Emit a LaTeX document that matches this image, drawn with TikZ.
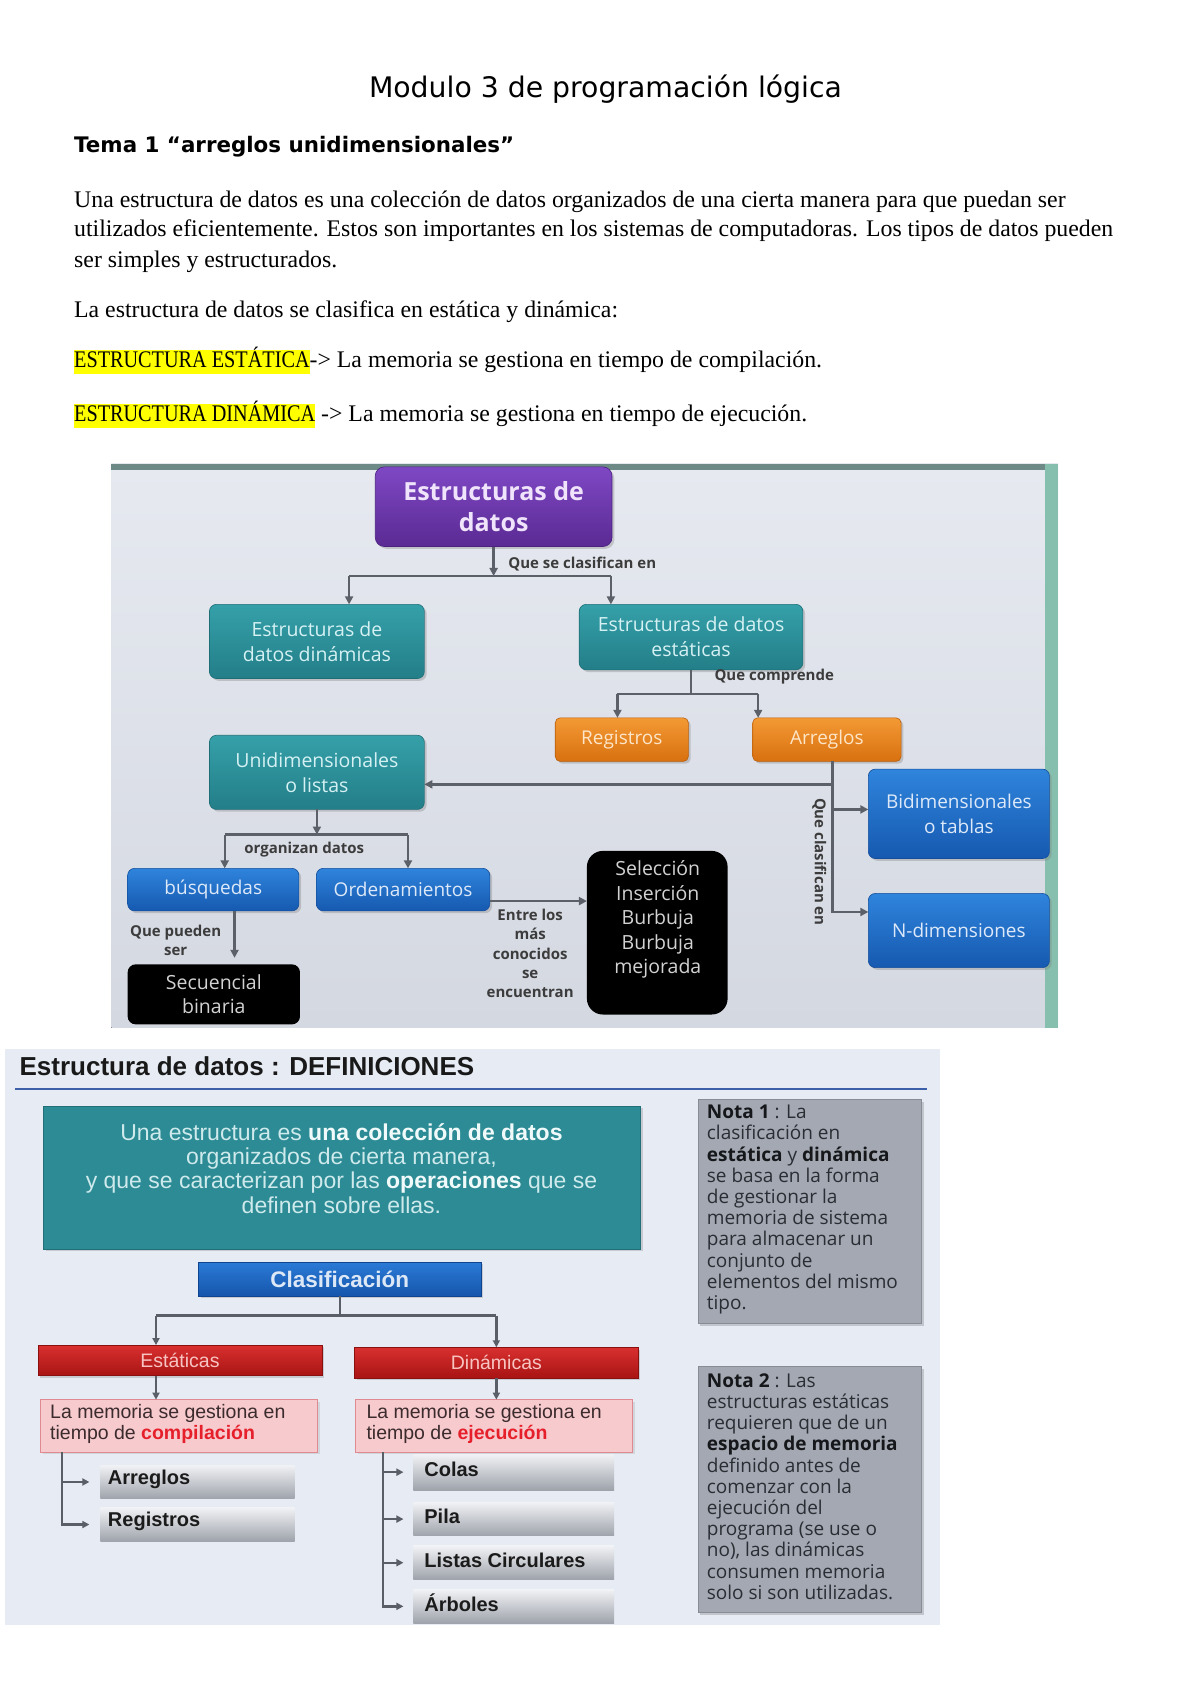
\documentclass[tikz,border=0pt]{standalone}
\usepackage{fontspec}
\setmainfont{Liberation Serif}
\newfontfamily\dvs{DejaVu Sans}
\newfontfamily\osf{Open Sans}
\newfontfamily\arl{Liberation Sans}
\usetikzlibrary{arrows.meta,shadows}
\definecolor{hlY}{HTML}{FFFF00}
\definecolor{purpT}{HTML}{7E48C4}\definecolor{purpB}{HTML}{5B2A93}\definecolor{purpD}{HTML}{4A2080}\definecolor{purpX}{HTML}{EFE4FB}
\definecolor{tealT}{HTML}{35A0A9}\definecolor{tealB}{HTML}{237E88}\definecolor{tealD}{HTML}{1D6E77}\definecolor{tealX}{HTML}{D5F1F3}
\definecolor{orT}{HTML}{F39A35}\definecolor{orB}{HTML}{D8700F}\definecolor{orD}{HTML}{B85E0C}\definecolor{orX}{HTML}{FDE5C8}
\definecolor{bluT}{HTML}{2F84DC}\definecolor{bluB}{HTML}{1659B0}\definecolor{bluD}{HTML}{134E9C}\definecolor{bluX}{HTML}{DDE9F8}
\definecolor{blkX}{HTML}{D2D2D2}
\definecolor{lineC}{HTML}{5C6068}\definecolor{lblC}{HTML}{3C3C3C}
\definecolor{cmT}{HTML}{E6E9F0}\definecolor{cmB}{HTML}{D4D8E1}
\definecolor{stripC}{HTML}{6D8A86}\definecolor{rstrip}{HTML}{86BFAE}
\definecolor{dbg}{HTML}{E6EBF4}\definecolor{dline}{HTML}{3D5EA8}
\definecolor{dtealC}{HTML}{2C8B94}\definecolor{dtealD}{HTML}{236F77}\definecolor{dtealX}{HTML}{CFEAEC}\definecolor{dtealB}{HTML}{F0FAFA}
\definecolor{clT}{HTML}{2A7AD6}\definecolor{clB}{HTML}{1656AC}\definecolor{clD}{HTML}{0F4590}\definecolor{clX}{HTML}{DDE8F7}
\definecolor{rdT}{HTML}{D8302F}\definecolor{rdB}{HTML}{A91414}\definecolor{rdD}{HTML}{8A0F0F}\definecolor{rdX}{HTML}{F7C4C2}
\definecolor{pkC}{HTML}{F7CACE}\definecolor{pkD}{HTML}{DF8A90}\definecolor{pkX}{HTML}{3B2B2D}\definecolor{pkR}{HTML}{E5202B}
\definecolor{itT}{HTML}{F1F2F5}\definecolor{itM}{HTML}{D6D9DE}\definecolor{itB}{HTML}{9EA3AB}\definecolor{itX}{HTML}{1B1B1B}
\definecolor{ntC}{HTML}{A3A8B2}\definecolor{ntD}{HTML}{878C95}\definecolor{ntX}{HTML}{2A2D33}\definecolor{ntB}{HTML}{15171A}
\definecolor{dlineC}{HTML}{5A5E66}
\newcommand\placebox[7]{\node[#1,minimum width={(#5-#3)*1.0909pt},minimum height={(#6-#4)*1.0909pt}] (#2) at ({(#3+#5)/2},{(#4+#6)/2}) {#7};}
\newcommand\notab[1]{\textcolor{ntB}{\bfseries #1}}
\begin{document}
\begin{tikzpicture}[x=1.0909pt,y=-1.0909pt,
  every node/.style={inner sep=0pt,outer sep=0pt},
  box/.style={align=center, rounded corners=5pt},
  purp/.style={box, top color=purpT, bottom color=purpB, draw=purpD, line width=0.6pt, text=purpX, font=\osf\bfseries\fontsize{25}{31.6}\selectfont, drop shadow={opacity=0.35}, rounded corners=9pt},
  teal/.style={box, top color=tealT, bottom color=tealB, draw=tealD, line width=0.6pt, text=tealX, font=\osf\fontsize{19.5}{25}\selectfont, drop shadow={opacity=0.35}, rounded corners=7pt},
  orng/.style={box, top color=orT, bottom color=orB, draw=orD, line width=0.6pt, text=orX, font=\osf\fontsize{19}{23}\selectfont, drop shadow={opacity=0.35}},
  blu/.style={box, top color=bluT, bottom color=bluB, draw=bluD, line width=0.6pt, text=bluX, font=\osf\fontsize{19}{25}\selectfont, drop shadow={opacity=0.35}, rounded corners=7pt},
  blk/.style={box, fill=black, text=blkX, font=\osf\fontsize{19.5}{24.5}\selectfont, rounded corners=8pt},
  blkr/.style={box, fill=black, rounded corners=16pt},
  blktxt/.style={align=center, text=blkX, font=\osf\fontsize{19.5}{24.5}\selectfont},
  conn/.style={draw=lineC, line width=2.4pt},
  arw/.style={conn, -{Triangle[length=8pt,width=8pt]}},
  lbl/.style={font=\osf\bfseries\fontsize{15}{19.3}\selectfont, text=lblC, align=center},
  bodyt/.style={font=\fontsize{23.8}{30}\selectfont, anchor=base west},
  hl/.style={bodyt, fill=hlY, text height=17.5pt, text depth=6.5pt},
  dteal/.style={fill=dtealC, draw=dtealD, line width=0.6pt, drop shadow={opacity=0.3}},
  dtxt/.style={font=\arl\fontsize{23}{24.4}\selectfont, text=dtealX, align=center},
  clas/.style={top color=clT, bottom color=clB, draw=clD, line width=0.6pt, text=clX, font=\arl\bfseries\fontsize{22.5}{26}\selectfont, drop shadow={opacity=0.3}},
  red/.style={top color=rdT, bottom color=rdB, draw=rdD, line width=0.6pt, text=rdX, font=\arl\fontsize{19.5}{22}\selectfont, drop shadow={opacity=0.3}},
  pink/.style={fill=pkC, draw=pkD, line width=0.8pt, drop shadow={opacity=0.2}},
  ptxt/.style={font=\arl\fontsize{19.5}{21.8}\selectfont, text=pkX, align=left, anchor=north west},
  item/.style={top color=itT, middle color=itM, bottom color=itB},
  itxt/.style={font=\arl\bfseries\fontsize{20}{22}\selectfont, text=itX, anchor=west},
  nota/.style={fill=ntC, draw=ntD, line width=0.8pt, drop shadow={opacity=0.35}},
  ntxt/.style={font=\osf\fontsize{19}{21.2}\selectfont, text=ntX, align=left, anchor=north west},
  dconn/.style={draw=dlineC, line width=2.4pt},
  darw/.style={dconn, -{Triangle[length=7pt,width=7pt]}}
]
\useasboundingbox (0,0) rectangle (1100,1554.7);
\fill[white] (0,0) rectangle (1100,1554.7);

% ---------- page text ----------
\node[font=\dvs\fontsize{28.3}{34}\selectfont, anchor=base] (title) at (555,89) {Modulo 3 de programación lógica};
\node[font=\dvs\bfseries\fontsize{21.4}{25}\selectfont, anchor=base west] (tema) at (68,140) {Tema 1 “arreglos unidimensionales”};
\node[bodyt] (l1) at (68,190) {Una estructura de datos es una colección de datos organizados de una cierta manera para que puedan ser};
\node[bodyt] (l2) at (68,217) {utilizados eficientemente. Estos son importantes en los sistemas de computadoras. Los tipos de datos pueden};
\node[bodyt] (l3) at (68,245) {ser simples y estructurados.};
\node[bodyt] (l4) at (68,291) {La estructura de datos se clasifica en estática y dinámica:};
\node[hl] (h1) at (68,337) {\scalebox{0.85}[1]{ESTRUCTURA ESTÁTICA}};
\node[bodyt] (l5) at (h1.base east) {-> La memoria se gestiona en tiempo de compilación.};
\node[hl] (h2) at (68,386) {\scalebox{0.85}[1]{ESTRUCTURA DINÁMICA}};
\node[bodyt] (l6) at (h2.base east) {\ -> La memoria se gestiona en tiempo de ejecución.};

% ---------- concept map ----------
\fill[top color=cmT, bottom color=cmB] (102,425) rectangle (970,942);
\fill[stripC] (102,425) rectangle (970,431);
\fill[rstrip] (958,425) rectangle (970,942);

\placebox{purp}{p}{344}{428}{561}{501}{Estructuras de\\datos}
\placebox{teal}{dd}{192}{554}{389}{622}{Estructuras de\\datos dinámicas}
\placebox{teal}{de}{531}{554}{736}{614}{Estructuras de datos\\estáticas}
\placebox{orng}{reg}{509}{658}{631}{698}{Registros}
\placebox{orng}{arrg}{690}{658}{826}{698}{Arreglos}
\placebox{blu}{bid}{796}{705}{962}{787}{Bidimensionales\\o tablas}
\placebox{blu}{ndim}{796}{819}{962}{887}{N-dimensiones}
\placebox{teal}{uni}{192}{674}{389}{742}{Unidimensionales\\o listas}
\placebox{blu}{bus}{117}{796}{274}{835}{búsquedas}
\placebox{blu}{ord}{290}{796}{449}{835}{Ordenamientos}
\placebox{blk}{sec}{117}{884}{275}{939}{Secuencial\\binaria}
\placebox{blkr}{sel}{538}{780}{667}{930}{}
\node[blktxt] (selt) at (603,843) {Selección\\Inserción\\Burbuja\\Burbuja\\mejorada};

\coordinate (jL) at (320,528); \coordinate (jR) at (560,528);
\draw[arw] (p.south) -- (p.south |- jL);
\draw[conn] (jL) -- (jR);
\draw[arw] (jL) -- (jL |- dd.north);
\draw[arw] (jR) -- (jR |- de.north);
\node[lbl, anchor=west] (q1) at (466,517) {Que se clasifican en};

\coordinate (kL) at (566,636); \coordinate (kR) at (695,636);
\draw[conn] (de.south) -- (de.south |- kL);
\draw[conn] (kL) -- (kR);
\draw[arw] (kL) -- (kL |- reg.north);
\draw[arw] (kR) -- (kR |- arrg.north);
\node[lbl, anchor=west] (q2) at (655,620) {Que comprende};

\coordinate (aU) at (763,719); \coordinate (aB) at (763,742); \coordinate (aN) at (763,836);
\draw[arw] (aU |- arrg.south) -- (aN) -- (aN -| ndim.west);
\draw[arw] (aB) -- (aB -| bid.west);
\draw[arw] (aU) -- (aU -| uni.east);
\node[lbl, rotate=-90] (q3) at (751,790) {Que clasifican en};

\coordinate (mL) at (206,765); \coordinate (mR) at (374,765);
\draw[arw] (uni.south) -- (uni.south |- mL);
\draw[conn] (mL) -- (mR);
\draw[arw] (mL) -- (mL |- bus.north);
\draw[arw] (mR) -- (mR |- ord.north);
\node[lbl, anchor=west] (q4) at (224,779) {organizan datos};

\coordinate (bS) at (215,835);
\draw[arw] (bS) -- (215,878);
\node[lbl] (q5) at (161,862) {Que pueden\\ser};

\coordinate (oS) at (449,826);
\draw[arw] (oS) -- (oS -| sel.west);
\node[lbl] (q6) at (486,874) {Entre los\\más\\conocidos\\se\\encuentran};

% ---------- definitions ----------
\fill[dbg] (5,962) rectangle (862,1490);
\node[font=\arl\bfseries\fontsize{26}{30}\selectfont, anchor=west, text=black!90] (dt) at (18,977) {Estructura de datos : DEFINICIONES};
\draw[dline, line width=1.6pt] (14,998) -- (850,998);

\placebox{dteal}{dbox}{40}{1014}{587}{1145}{}
\node[dtxt] (dtx) at (313,1071) {Una estructura es \textcolor{dtealB}{\bfseries una colección de datos}\\organizados de cierta manera,\\y que se caracterizan por las \textcolor{dtealB}{\bfseries operaciones} que se\\definen sobre ellas.};

\placebox{clas}{cl}{182}{1157}{441}{1188}{Clasificación}
\placebox{red}{est}{35}{1233}{295}{1261}{Estáticas}
\placebox{red}{din}{325}{1235}{585}{1263}{Dinámicas}
\placebox{pink}{pl}{37}{1283}{291}{1331}{}
\placebox{pink}{pr}{326}{1283}{580}{1331}{}
\node[ptxt] (plt) at (46,1287) {La memoria se gestiona en\\tiempo de \textcolor{pkR}{\bfseries compilación}};
\node[ptxt] (prt) at (336,1287) {La memoria se gestiona en\\tiempo de \textcolor{pkR}{\bfseries ejecución}};

\coordinate (cL) at (143,1206); \coordinate (cR) at (455,1206);
\draw[dconn] (cl.south) -- (cl.south |- cL);
\draw[dconn] (cL) -- (cR);
\draw[darw] (cL) -- (cL |- est.north);
\draw[darw] (cR) -- (cR |- din.north);
\draw[darw] (est.south -| cL) -- (cL |- pl.north);
\draw[darw] (din.south -| cR) -- (cR |- pr.north);

\placebox{item}{iarr}{92}{1343}{270}{1374}{}
\placebox{item}{ireg}{92}{1382}{270}{1413}{}
\placebox{item}{icol}{379}{1333}{563}{1366}{}
\placebox{item}{ipil}{379}{1377}{563}{1408}{}
\placebox{item}{ilis}{379}{1417}{563}{1448}{}
\placebox{item}{iarb}{379}{1457}{563}{1488}{}
\node[itxt] (tarr) at (99,1356) {Arreglos};
\node[itxt] (treg) at (99,1395) {Registros};
\node[itxt] (tcol) at (389,1347) {Colas};
\node[itxt] (tpil) at (389,1390) {Pila};
\node[itxt] (tlis) at (389,1430) {Listas Circulares};
\node[itxt] (tarb) at (389,1469) {Árboles};

\coordinate (bL) at (57,1358); \coordinate (bR) at (351,1350);
\draw[darw, shorten >=11pt] (bL |- pl.south) -- (bL |- ireg) -- (ireg.west);
\draw[darw, shorten >=11pt] (bL |- iarr) -- (iarr.west);
\draw[darw, shorten >=10pt] (bR |- pr.south) -- (bR |- iarb) -- (iarb.west);
\draw[darw, shorten >=10pt] (bR |- icol) -- (icol.west);
\draw[darw, shorten >=10pt] (bR |- ipil) -- (ipil.west);
\draw[darw, shorten >=10pt] (bR |- ilis) -- (ilis.west);

\placebox{nota}{n1}{640}{1008}{845}{1213}{}
\node[ntxt] (n1t) at (648,1013) {\notab{Nota 1} : La\\clasificación en\\\notab{estática} y \notab{dinámica}\\se basa en la forma\\de gestionar la\\memoria de sistema\\para almacenar un\\conjunto de\\elementos del mismo\\tipo.};
\placebox{nota}{n2}{640}{1253}{845}{1478}{}
\node[ntxt] (n2t) at (648,1259) {\notab{Nota 2} : Las\\estructuras estáticas\\requieren que de un\\\notab{espacio de memoria}\\definido antes de\\comenzar con la\\ejecución del\\programa (se use o\\no), las dinámicas\\consumen memoria\\solo si son utilizadas.};
\end{tikzpicture}
\end{document}
